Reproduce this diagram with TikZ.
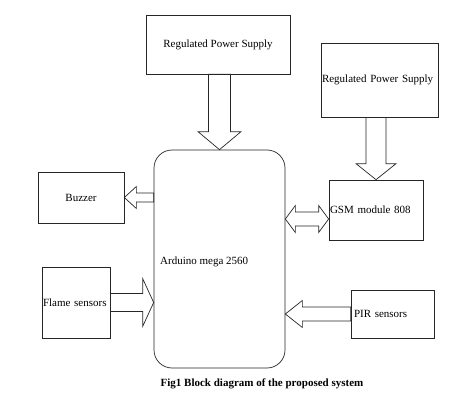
\documentclass[tikz,border=0pt]{standalone}
\usepackage{fontspec}
\setmainfont{Liberation Serif}
\usetikzlibrary{calc}

% hollow block arrow: from, to, shaft half width, head half width, head length
\newcommand{\fatarrow}[5]{%
	\coordinate (fb) at ($(#2)!#5!(#1)$);
	\draw [fatline] ($(#1)!#3!90:(#2)$) -- ($(fb)!#3!90:(#2)$) -- ($(fb)!#4!90:(#2)$) -- (#2) -- ($(fb)!#4!-90:(#2)$) -- ($(fb)!#3!-90:(#2)$) -- ($(#1)!#3!-90:(#2)$) -- cycle;
}
% hollow block arrow with two heads
\newcommand{\dblarrow}[5]{%
	\coordinate (da) at ($(#1)!#5!(#2)$);
	\coordinate (db) at ($(#2)!#5!(#1)$);
	\draw [fatline] (#1) -- ($(da)!#4!90:(#2)$) -- ($(da)!#3!90:(#2)$) -- ($(db)!#3!90:(#2)$) -- ($(db)!#4!90:(#2)$) -- (#2) -- ($(db)!#4!-90:(#2)$) -- ($(db)!#3!-90:(#2)$) -- ($(da)!#3!-90:(#2)$) -- ($(da)!#4!-90:(#2)$) -- cycle;
}

\begin{document}
\begin{tikzpicture}[x = 1pt, y = -1pt,
	block/.style = {draw = black!85, line width = 0.7pt, font = \fontsize{11}{13}\selectfont},
	lefttext/.style = {align = left, inner xsep = 1pt},
	fatline/.style = {draw = black!85, line width = 0.7pt, line join = miter}]
	\useasboundingbox (0,0) rectangle (474,404);
	\node [block, minimum width = 144pt, minimum height = 59pt] (rps1) at (218,44.5) {Regulated Power Supply};
	\node [block, lefttext, minimum width = 117pt, minimum height = 74pt, text width = 115pt] (rps2) at (379.5,80) {Regulated Power Supply};
	\node [block, rounded corners = 18pt, minimum width = 131pt, minimum height = 218pt] (ard) at (219.5,259) {};
	\node [font = \fontsize{11}{13}\selectfont, right] (ardtxt) at ($(ard.west)+(3,3)$) {Arduino mega 2560};
	\node [block, lefttext, minimum width = 94pt, minimum height = 60pt, text width = 92pt] (gsm) at (376,210) {GSM module 808};
	\node [block, minimum width = 86pt, minimum height = 51pt] (buzzer) at (81,197.5) {Buzzer};
	\node [block, lefttext, minimum width = 68pt, minimum height = 71pt, text width = 66pt] (flame) at (76,302.5) {Flame sensors};
	\node [block, lefttext, inner xsep = 3pt, minimum width = 83pt, minimum height = 48pt, text width = 77pt] (pir) at (392.5,314) {PIR sensors};
	\node [font = \fontsize{11}{13}\selectfont\bfseries] (caption) at (262,384) {Fig1 Block diagram of the proposed system};

	\coordinate (c1) at (rps1.south -| ard.north);
	\fatarrow{c1}{ard.north}{11pt}{21.5pt}{18pt}
	\coordinate (c2) at (rps2.south -| gsm.north);
	\fatarrow{c2}{gsm.north}{10pt}{20pt}{16pt}
	\coordinate (c3) at (buzzer.east -| ard.west);
	\fatarrow{c3}{buzzer.east}{4.5pt}{11pt}{12pt}
	\coordinate (c4) at (flame.east -| ard.west);
	\fatarrow{flame.east}{c4}{9pt}{24pt}{11pt}
	\coordinate (c5) at (pir.west -| ard.east);
	\fatarrow{pir.west}{c5}{7pt}{13.5pt}{17pt}
	\coordinate (c6) at ($(gsm.west)+(0,9)$);
	\coordinate (c7) at (c6 -| ard.east);
	\dblarrow{c7}{c6}{7pt}{13.5pt}{10pt}
\end{tikzpicture}
\end{document}
